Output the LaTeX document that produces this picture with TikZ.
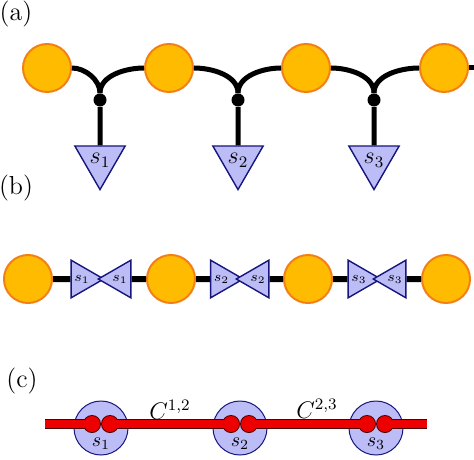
\documentclass[tikz,border=0pt]{standalone}
\usepackage{amsmath}
\usepackage{amssymb}
\usepackage{tikz}
\usetikzlibrary{positioning,shapes,calc}
\definecolor{sitefill}{RGB}{255,187,0}
\definecolor{siteedge}{RGB}{242,128,22}
\definecolor{tfill}{RGB}{188,188,246}
\definecolor{tedge}{RGB}{22,22,125}
\definecolor{bondred}{RGB}{236,0,0}
\definecolor{bondedge}{RGB}{80,0,0}
\tikzset{site/.style={circle,draw=siteedge,fill=sitefill,line width=1pt,minimum size=24pt,inner sep=0pt},
         leg/.style={line width=2.5pt},
         junc/.style={circle,fill=black,minimum size=6.5pt,inner sep=0pt},
         tri/.style={regular polygon,regular polygon sides=3,draw=tedge,fill=tfill,line width=0.7pt,inner sep=0pt},
         blob/.style={circle,draw=tedge,fill=tfill,line width=0.5pt,minimum size=27pt,inner sep=0pt},
         lab/.style={font=\fontsize{13}{15}\selectfont}
}

\begin{document}
\begin{tikzpicture}[x=0.5pt,y=-0.5pt]
  \useasboundingbox (0,0) rectangle (474,459);

  % (a)
  \node[lab] (la) at (16,14) {(a)};
  \foreach \n/\x in {1/47,2/169,3/306,4/444}
    \node[site] (a\n) at (\x,68) {};
  \foreach \n/\x in {1/100,2/238,3/374}{
    \node[junc] (j\n) at (\x,100) {};
    \node[tri,minimum size=25.4pt,regular polygon rotate=180,font=\fontsize{12}{12}\selectfont]
      (t\n) at (\x,160.5) {$s_\n$};
  }
  \coordinate (aend) at (474,68);
  \draw[leg] (a1) to[out=0,in=90,looseness=0.9] (j1);
  \draw[leg] (j1) to[out=90,in=180,looseness=0.9] (a2);
  \draw[leg] (a2) to[out=0,in=90,looseness=0.9] (j2);
  \draw[leg] (j2) to[out=90,in=180,looseness=0.9] (a3);
  \draw[leg] (a3) to[out=0,in=90,looseness=0.9] (j3);
  \draw[leg] (j3) to[out=90,in=180,looseness=0.9] (a4);
  \draw[leg] (a4) -- (aend);
  \foreach \n in {1,2,3}
    \draw[leg] (j\n) -- (t\n);

  % (b)
  \node[lab] (lb) at (16,188) {(b)};
  \foreach \n/\x in {1/28,2/171,3/308,4/446}
    \node[site] (b\n) at (\x,279) {};
  \foreach \n/\xr/\xl in {1/82/120,2/221.5/258,3/359/395}{
    \node[tri,minimum size=16pt,regular polygon rotate=-90,font=\fontsize{7.5}{8}\selectfont]
      (r\n) at (\xr,279) {$s_\n$};
    \node[tri,minimum size=16pt,regular polygon rotate=90,font=\fontsize{7.5}{8}\selectfont]
      (l\n) at (\xl,279) {$s_\n$};
  }
  \draw[leg,line width=3pt] (b1) -- (r1) (l1) -- (b2);
  \draw[leg,line width=3pt] (b2) -- (r2) (l2) -- (b3);
  \draw[leg,line width=3pt] (b3) -- (r3) (l3) -- (b4);

  % (c)
  \node[lab] (lc) at (22,381) {(c)};
  \foreach \n/\x in {1/101,2/240,3/376}{
    \node[blob] (c\n) at (\x,428) {};
    \coordinate (d\n a) at ($(\x,424)+(-9,0)$);
    \coordinate (d\n b) at ($(\x,424)+(9,0)$);
  }
  \coordinate (cl) at (45,424);
  \coordinate (cr) at (427,424);
  \foreach \w/\c/\r in {5pt/bondedge/4.5pt,4pt/bondred/4pt}{
    \draw[line width=\w,\c] (cl) -- (d1a) (d1b) -- (d2a) (d2b) -- (d3a) (d3b) -- (cr);
    \foreach \d in {d1a,d1b,d2a,d2b,d3a,d3b}
      \fill[\c] (\d) circle (\r);
  }
  \foreach \n/\x in {1/101,2/240,3/376}
    \node[font=\normalsize] (s\n) at (\x,444) {$s_\n$};
  \node[font=\fontsize{11.5}{13}\selectfont] (k12) at (170,410) {$C^{1,2}$};
  \node[font=\fontsize{11.5}{13}\selectfont] (k23) at (317,409) {$C^{2,3}$};
\end{tikzpicture}
\end{document}
